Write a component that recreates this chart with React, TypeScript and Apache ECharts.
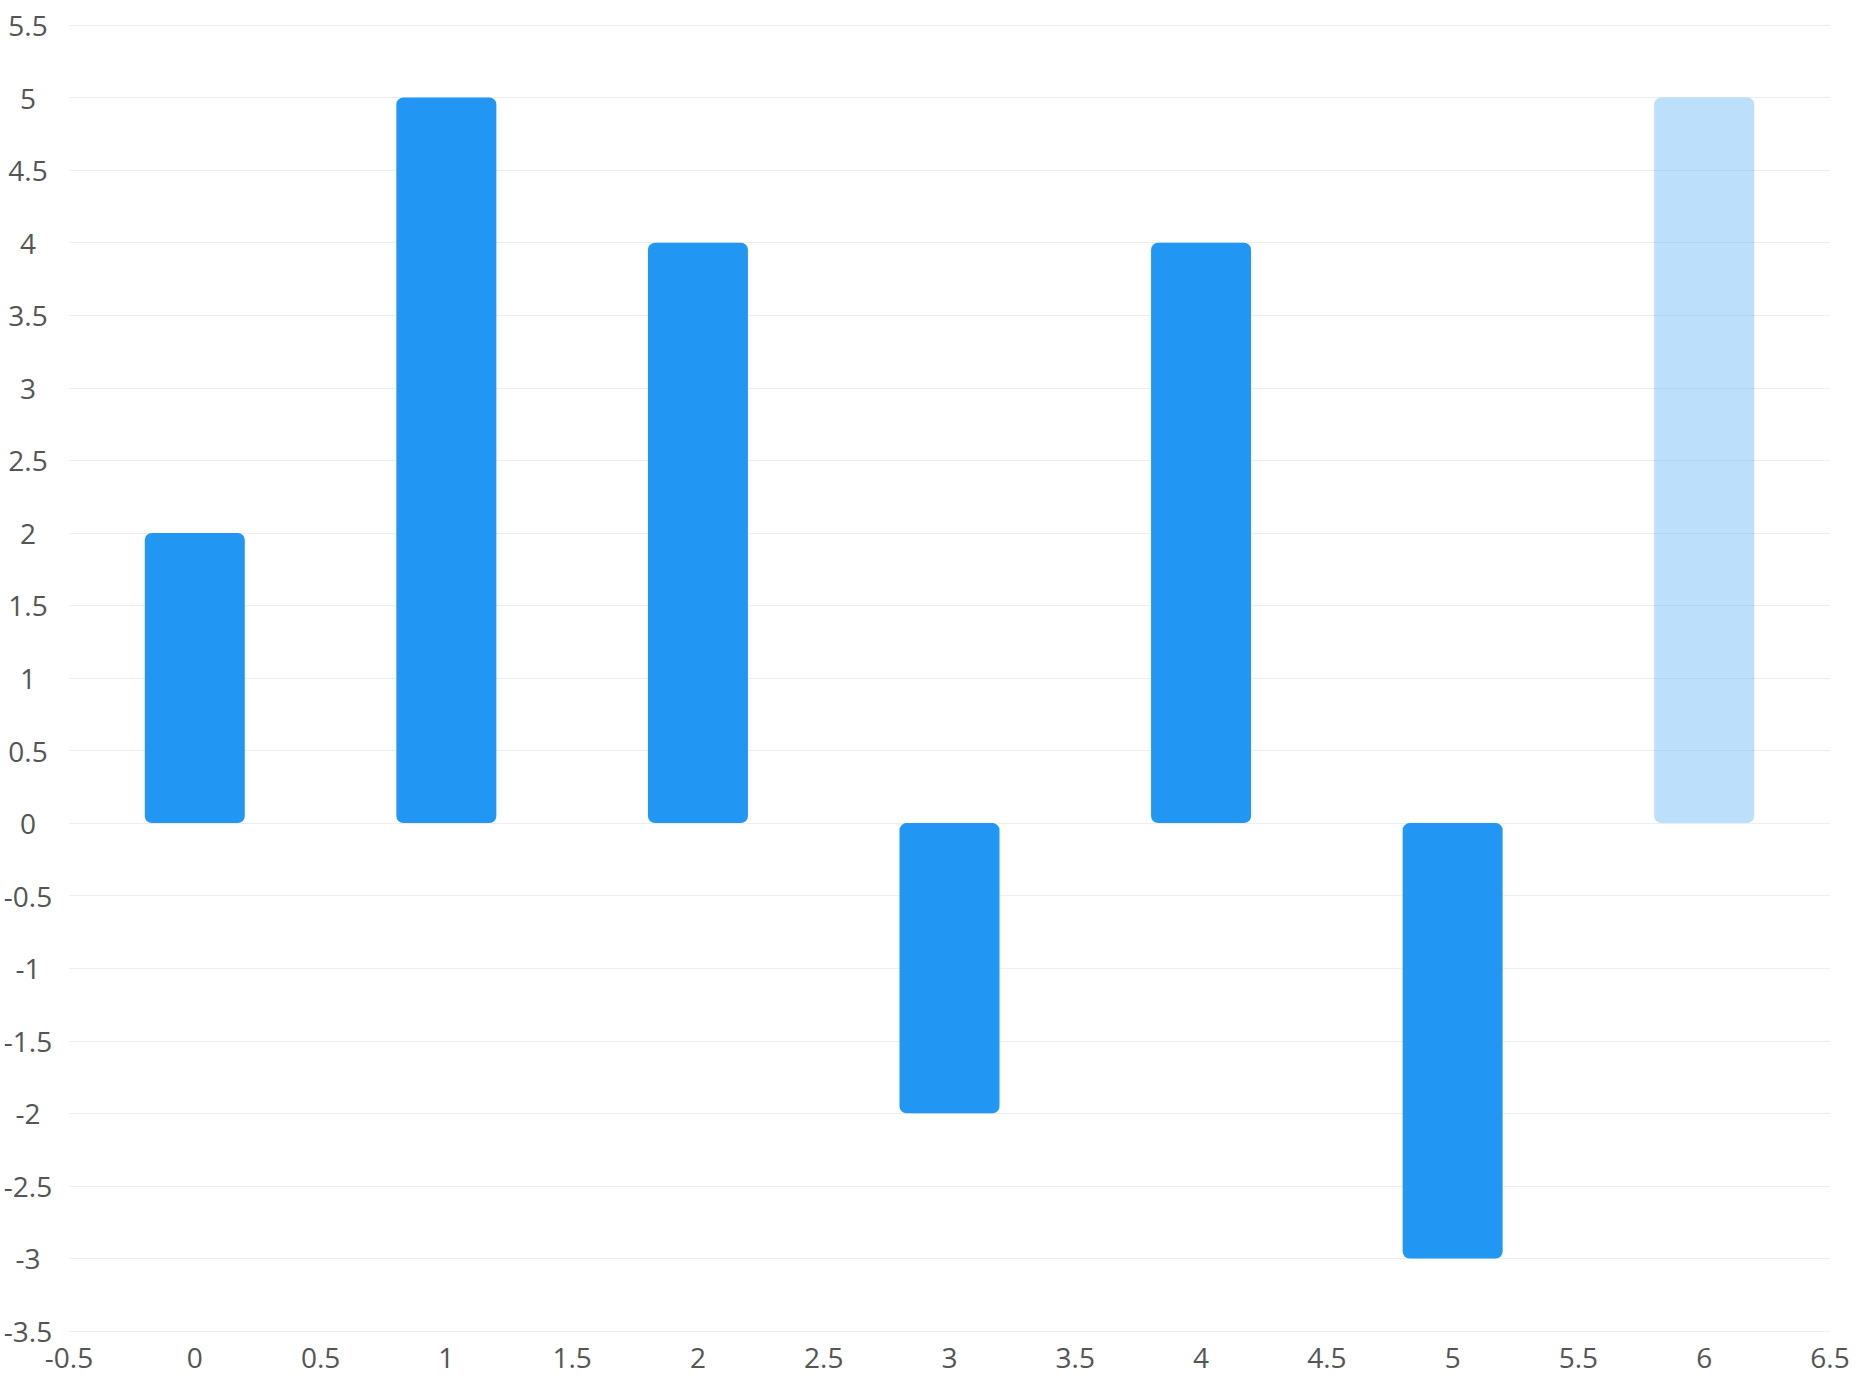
import React, { useEffect, useRef } from "react";
import * as echarts from "echarts";

const xPositions = [0, 1, 2, 3, 4, 5, 6];
const values = [2, 5, 4, -2, 4, -3, 5];
const opacities = [1, 1, 1, 1, 1, 1, 0.3];
const BAR_COLOR = "#2196F3";

export default function App() {
  const ref = useRef<HTMLDivElement>(null);
  useEffect(() => {
    if (!ref.current) return;
    const chart = echarts.init(ref.current, undefined, { renderer: "svg" });
    const labelStyle = {
      color: "#555555",
      fontSize: 28,
      fontFamily: "Open Sans",
    };
    chart.setOption({
      animation: false,
      backgroundColor: "#ffffff",
      grid: { left: 69, right: 40, top: 25, bottom: 55, containLabel: false },
      xAxis: {
        type: "value",
        min: -0.5,
        max: 6.5,
        interval: 0.5,
        axisLine: { show: false },
        axisTick: { show: false },
        splitLine: { show: false },
        axisLabel: { ...labelStyle, margin: 12 },
      },
      yAxis: {
        type: "value",
        min: -3.5,
        max: 5.5,
        interval: 0.5,
        axisLine: { show: false },
        axisTick: { show: false },
        splitLine: { show: true, lineStyle: { color: "#eeeeee", width: 1 } },
        axisLabel: { ...labelStyle, align: "center", margin: 41 },
      },
      series: [
        {
          type: "bar",
          barWidth: 100,
          data: xPositions.map((x, i) => ({
            value: [x, values[i]],
            itemStyle: {
              color: BAR_COLOR,
              opacity: opacities[i],
              borderRadius: 7,
            },
          })),
        },
      ],
    });
    return () => chart.dispose();
  }, []);
  return (
    <div
      ref={ref}
      style={{ position: "fixed", left: 0, top: 0, width: 1870, height: 1386 }}
    />
  );
}
